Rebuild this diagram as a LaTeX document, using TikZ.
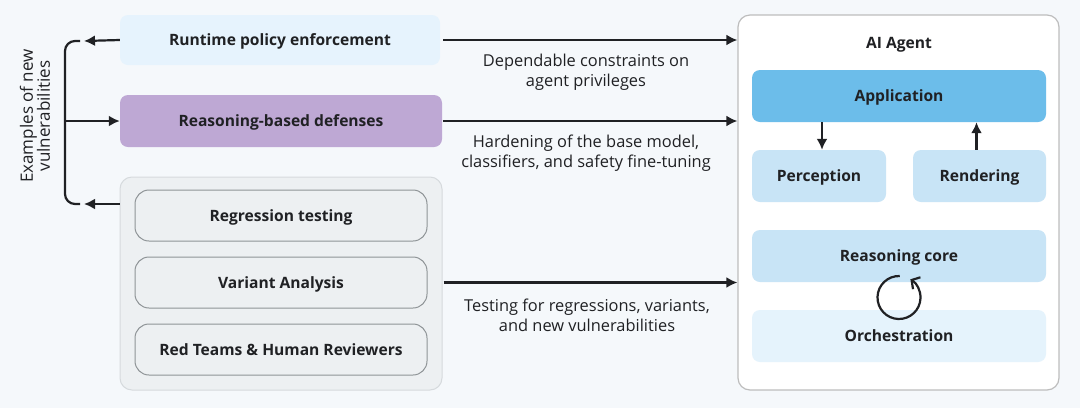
\documentclass[tikz,border=0pt]{standalone}
\usepackage{fontspec}
\setmainfont{Open Sans}
\usetikzlibrary{arrows.meta}
\definecolor{bgc}{HTML}{F5F8FB}
\definecolor{txt}{HTML}{202124}
\definecolor{runc}{HTML}{E6F3FD}
\definecolor{defc}{HTML}{BEA8D4}
\definecolor{grpc}{HTML}{EDF0F2}
\definecolor{grpb}{HTML}{D6DADD}
\definecolor{innb}{HTML}{8F9497}
\definecolor{agb}{HTML}{BDBDBD}
\definecolor{appc}{HTML}{6CBDEA}
\definecolor{midc}{HTML}{C8E4F6}
\definecolor{orcc}{HTML}{E5F3FC}
\tikzset{
  box/.style={rounded corners=8pt, inner sep=0pt, font=\fontsize{15.6}{18}\selectfont\bfseries, text=txt, text height=11pt, text depth=0pt},
  lbl/.style={font=\fontsize{16.4}{20}\selectfont, text=txt, align=center},
  arr/.style={draw=txt, line width=2.2pt, -{Latex[length=11pt,width=11pt]}},
}
\begin{document}
\begin{tikzpicture}[x=1pt,y=1pt]
\useasboundingbox (0,0) rectangle (1080,-408);
\fill[bgc] (0,0) rectangle (1080,-408);

% left column
\node[box, fill=runc, minimum width=320pt, minimum height=50pt] (run) at (280,-40) {Runtime policy enforcement};
\node[box, fill=defc, minimum width=322pt, minimum height=52pt] (def) at (281,-121) {Reasoning-based defenses};
\node[box, fill=grpc, draw=grpb, line width=1pt, rounded corners=12pt, minimum width=322pt, minimum height=213pt] (grp) at (281,-283.5) {};
\node[box, fill=grpc, draw=innb, line width=1pt, rounded corners=14pt, minimum width=292pt, minimum height=51pt] (reg) at (281,-215.5) {Regression testing};
\node[box, fill=grpc, draw=innb, line width=1pt, rounded corners=14pt, minimum width=292pt, minimum height=51pt] (var) at (281,-282.5) {Variant Analysis};
\node[box, fill=grpc, draw=innb, line width=1pt, rounded corners=14pt, minimum width=292pt, minimum height=51pt] (red) at (281,-349.5) {Red Teams \& Human Reviewers};

% bracket
\coordinate (bt) at (84,-41);
\coordinate (bb) at (84,-204);
\coordinate (bm) at (65,-121);
\draw[txt, line width=2.2pt, rounded corners=10pt] (80,-41) -- (65,-41) -- (65,-204) -- (80,-204);
\draw[arr] (run.west) -- (bt);
\draw[arr] (grp.west |- bb) -- (bb);
\draw[arr] (bm) -- (def.west);
\node[lbl, rotate=90, font=\fontsize{17}{17}\selectfont] (ex) at (35,-116) {Examples of new\\vulnerabilities};

% AI agent
\node[box, fill=white, draw=agb, line width=1.2pt, rounded corners=12pt, minimum width=321pt, minimum height=375pt] (agent) at (898.5,-202.5) {};
\node[box] (agt) at (899,-43) {AI Agent};
\node[box, fill=appc, minimum width=294pt, minimum height=52pt] (app) at (899,-96) {Application};
\node[box, fill=midc, minimum width=134pt, minimum height=52pt] (per) at (819,-176) {Perception};
\node[box, fill=midc, minimum width=133pt, minimum height=52pt] (ren) at (979.5,-176) {Rendering};
\node[box, fill=midc, minimum width=294pt, minimum height=52pt] (rc) at (899,-256) {Reasoning core};
\node[box, fill=orcc, minimum width=294pt, minimum height=52pt] (orc) at (899,-336) {Orchestration};
\draw[arr] ([xshift=3pt]app.south -| per.north) -- ([xshift=3pt]per.north);
\draw[arr] ([xshift=-3pt]ren.north) -- ([xshift=-3pt]ren.north |- app.south);
\coordinate (cc) at (899,-297.5);
\draw[txt, line width=2.2pt, -{Straight Barb[length=6pt,width=14pt,line width=2.2pt]}] ([shift={(88:21.5)}]cc) arc[start angle=88, end angle=418, radius=21.5];

% right arrows
\draw[arr] ([xshift=3pt]run.east) -- (run.east -| agent.west) coordinate[pos=0.5] (m1);
\draw[arr] ([xshift=1pt]def.east) -- (def.east -| agent.west) coordinate[pos=0.5] (m2);
\draw[arr] ([xshift=1pt]grp.east |- var.east) -- (var.east -| agent.west) coordinate[pos=0.5] (m3);
\node[lbl] (l1) at (586,-72) {Dependable constraints on\\agent privileges};
\node[lbl] (l2) at (586,-153) {Hardening of the base model,\\classifiers, and safety fine-tuning};
\node[lbl] (l3) at (587,-315) {Testing for regressions, variants,\\and new vulnerabilities};
\end{tikzpicture}
\end{document}
